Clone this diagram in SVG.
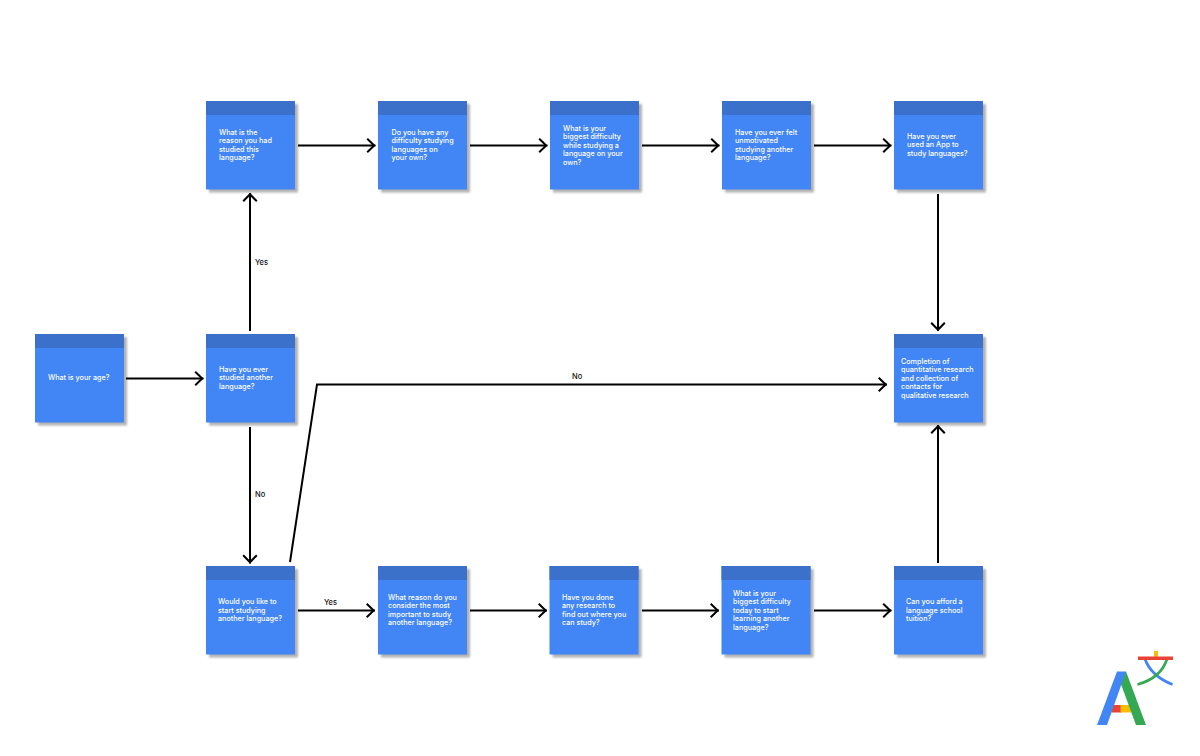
<svg xmlns="http://www.w3.org/2000/svg" width="1200" height="756" viewBox="0 0 1200 756">
<style>
.b{fill:#4285f4}
.h{fill:#3b71ca}
.s{fill:#000;opacity:.3}
.t{font-family:Inter,"Liberation Sans",sans-serif;font-size:7.2px;font-weight:500;fill:#fff}
.l{font-family:Inter,"Liberation Sans",sans-serif;font-size:7.5px;font-weight:500;fill:#111}
.c{fill:none;stroke:#000;stroke-width:2}
</style>
<defs>
<filter id="f" x="-10%" y="-10%" width="120%" height="120%"><feGaussianBlur stdDeviation="1.200"/></filter>
<marker id="a" viewBox="0 0 14 16" refX="11.800" refY="8" markerWidth="14" markerHeight="16" markerUnits="userSpaceOnUse" orient="auto"><path d="M3.500 1.200L10.500 8L3.500 14.800" fill="none" stroke="#000" stroke-width="2"/></marker>
<g id="box"><rect class="s" x="3" y="3" width="89" height="88.500" filter="url(#f)"/><rect class="b" width="89" height="88.500"/><rect class="h" width="89" height="14"/></g>
</defs>
<g id="connectors">
<path class="c" marker-end="url(#a)" d="M298 145.500H375.500"/>
<path class="c" marker-end="url(#a)" d="M470 145.500H547.500"/>
<path class="c" marker-end="url(#a)" d="M642 145.500H719.500"/>
<path class="c" marker-end="url(#a)" d="M814 145.500H891.500"/>
<path class="c" marker-end="url(#a)" d="M938 194V331"/>
<path class="c" marker-end="url(#a)" d="M126 378.500H203.500"/>
<path class="c" marker-end="url(#a)" d="M250 331V193"/>
<path class="c" marker-end="url(#a)" d="M250 427V563.500"/>
<path class="c" marker-end="url(#a)" d="M290 562L317 384.500H887"/>
<path class="c" marker-end="url(#a)" d="M298 610.500H375"/>
<path class="c" marker-end="url(#a)" d="M470 610.500H547"/>
<path class="c" marker-end="url(#a)" d="M642 610.500H719"/>
<path class="c" marker-end="url(#a)" d="M814 610.500H891.500"/>
<path class="c" marker-end="url(#a)" d="M938 563V425"/>
<text class="l" x="255" y="265">Yes</text>
<text class="l" x="255" y="497">No</text>
<text class="l" x="572" y="379">No</text>
<text class="l" x="324" y="604.500">Yes</text>
</g>
<g id="n1"><use href="#box" x="206" y="101"/><text class="t" x="219" y="134.500">What is the</text><text class="t" x="219" y="143">reason you had</text><text class="t" x="219" y="151.500">studied this</text><text class="t" x="219" y="160">language?</text></g>
<g id="n2"><use href="#box" x="378" y="101"/><text class="t" x="391.500" y="134.500">Do you have any</text><text class="t" x="391.500" y="143">difficulty studying</text><text class="t" x="391.500" y="151.500">languages on</text><text class="t" x="391.500" y="160">your own?</text></g>
<g id="n3"><use href="#box" x="550" y="101"/><text class="t" x="563" y="130.500">What is your</text><text class="t" x="563" y="139">biggest difficulty</text><text class="t" x="563" y="147.500">while studying a</text><text class="t" x="563" y="156">language on your</text><text class="t" x="563" y="164.500">own?</text></g>
<g id="n4"><use href="#box" x="722" y="101"/><text class="t" x="735" y="134.500">Have you ever felt</text><text class="t" x="735" y="143">unmotivated</text><text class="t" x="735" y="151.500">studying another</text><text class="t" x="735" y="160">language?</text></g>
<g id="n5"><use href="#box" x="894" y="101"/><text class="t" x="907" y="138.500">Have you ever</text><text class="t" x="907" y="147">used an App to</text><text class="t" x="907" y="155.500">study languages?</text></g>
<g id="n6"><use href="#box" x="35" y="334"/><text class="t" x="48" y="380">What is your age?</text></g>
<g id="n7"><use href="#box" x="206" y="334"/><text class="t" x="219" y="371.500">Have you ever</text><text class="t" x="219" y="380">studied another</text><text class="t" x="219" y="388.500">language?</text></g>
<g id="n8"><use href="#box" x="894" y="334"/><text class="t" x="901" y="363.500">Completion of</text><text class="t" x="901" y="372">quantitative research</text><text class="t" x="901" y="380.500">and collection of</text><text class="t" x="901" y="389">contacts for</text><text class="t" x="901" y="397.500">qualitative research</text></g>
<g id="n9"><use href="#box" x="206" y="566"/><text class="t" x="218" y="604">Would you like to</text><text class="t" x="218" y="612.500">start studying</text><text class="t" x="218" y="621">another language?</text></g>
<g id="n10"><use href="#box" x="378" y="566"/><text class="t" x="388" y="599.500">What reason do you</text><text class="t" x="388" y="608">consider the most</text><text class="t" x="388" y="616.500">important to study</text><text class="t" x="388" y="625">another language?</text></g>
<g id="n11"><use href="#box" x="549.500" y="566"/><text class="t" x="562" y="599.500">Have you done</text><text class="t" x="562" y="608">any research to</text><text class="t" x="562" y="616.500">find out where you</text><text class="t" x="562" y="625">can study?</text></g>
<g id="n12"><use href="#box" x="721.500" y="566"/><text class="t" x="733" y="595.500">What is your</text><text class="t" x="733" y="604">biggest difficulty</text><text class="t" x="733" y="612.500">today to start</text><text class="t" x="733" y="621">learning another</text><text class="t" x="733" y="629.500">language?</text></g>
<g id="n13"><use href="#box" x="894" y="566"/><text class="t" x="906" y="604">Can you afford a</text><text class="t" x="906" y="612.500">language school</text><text class="t" x="906" y="621">tuition?</text></g>
<g id="logo">
<rect x="1111.500" y="705" width="10" height="7.500" fill="#ea4335"/>
<rect x="1120.500" y="705" width="11" height="7.500" fill="#fbbc05"/>
<path d="M1126 671.500L1146 725H1136L1118 676Z" fill="#34a853"/>
<path d="M1097 725L1117 671.500H1126L1107 725Z" fill="#4285f4"/>
<rect x="1154" y="651" width="4" height="6" fill="#fbbc05"/>
<path d="M1145 659Q1151 676 1172.500 684.500" fill="none" stroke="#4285f4" stroke-width="2.800"/>
<path d="M1167 659Q1161 678 1137.500 684.500" fill="none" stroke="#34a853" stroke-width="2.600"/>
<rect x="1138" y="656.500" width="35" height="3.500" fill="#ea4335"/>
</g>
</svg>
